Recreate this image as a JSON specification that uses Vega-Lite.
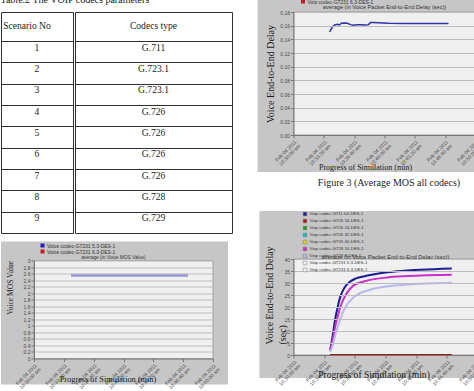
{
  "$schema": "https://vega.github.io/schema/vega-lite/v6.json",
  "background": "white",
  "padding": {"top": -7, "left": 0, "right": 0, "bottom": 0},
  "datasets": {
    "scenarios": [
      {"scenario": 1, "codec": "G.711"},
      {"scenario": 2, "codec": "G.723.1"},
      {"scenario": 3, "codec": "G.723.1"},
      {"scenario": 4, "codec": "G.726"},
      {"scenario": 5, "codec": "G.726"},
      {"scenario": 6, "codec": "G.726"},
      {"scenario": 7, "codec": "G.726"},
      {"scenario": 8, "codec": "G.728"},
      {"scenario": 9, "codec": "G.729"}
    ],
    "delay1": [
      {"time": "2011-02-04T10:33:58Z", "series": "Voip codec-G7231 5.3-DES-1", "delay": 0.151},
      {"time": "2011-02-04T10:34:17Z", "series": "Voip codec-G7231 5.3-DES-1", "delay": 0.158},
      {"time": "2011-02-04T10:34:31Z", "series": "Voip codec-G7231 5.3-DES-1", "delay": 0.161},
      {"time": "2011-02-04T10:34:50Z", "series": "Voip codec-G7231 5.3-DES-1", "delay": 0.162},
      {"time": "2011-02-04T10:35:03Z", "series": "Voip codec-G7231 5.3-DES-1", "delay": 0.161},
      {"time": "2011-02-04T10:35:16Z", "series": "Voip codec-G7231 5.3-DES-1", "delay": 0.1635},
      {"time": "2011-02-04T10:35:36Z", "series": "Voip codec-G7231 5.3-DES-1", "delay": 0.164},
      {"time": "2011-02-04T10:35:56Z", "series": "Voip codec-G7231 5.3-DES-1", "delay": 0.1635},
      {"time": "2011-02-04T10:36:16Z", "series": "Voip codec-G7231 5.3-DES-1", "delay": 0.1615},
      {"time": "2011-02-04T10:36:35Z", "series": "Voip codec-G7231 5.3-DES-1", "delay": 0.1605},
      {"time": "2011-02-04T10:36:55Z", "series": "Voip codec-G7231 5.3-DES-1", "delay": 0.1612},
      {"time": "2011-02-04T10:37:22Z", "series": "Voip codec-G7231 5.3-DES-1", "delay": 0.1612},
      {"time": "2011-02-04T10:37:55Z", "series": "Voip codec-G7231 5.3-DES-1", "delay": 0.161},
      {"time": "2011-02-04T10:38:14Z", "series": "Voip codec-G7231 5.3-DES-1", "delay": 0.1615},
      {"time": "2011-02-04T10:38:28Z", "series": "Voip codec-G7231 5.3-DES-1", "delay": 0.1645},
      {"time": "2011-02-04T10:38:47Z", "series": "Voip codec-G7231 5.3-DES-1", "delay": 0.1648},
      {"time": "2011-02-04T10:39:20Z", "series": "Voip codec-G7231 5.3-DES-1", "delay": 0.1643},
      {"time": "2011-02-04T10:40:26Z", "series": "Voip codec-G7231 5.3-DES-1", "delay": 0.1635},
      {"time": "2011-02-04T10:42:05Z", "series": "Voip codec-G7231 5.3-DES-1", "delay": 0.163},
      {"time": "2011-02-04T10:44:17Z", "series": "Voip codec-G7231 5.3-DES-1", "delay": 0.1632},
      {"time": "2011-02-04T10:47:02Z", "series": "Voip codec-G7231 5.3-DES-1", "delay": 0.163}
    ],
    "legend1": [
      {"series": "Voip codec-G7231 5.3-DES-1"},
      {"series": "Voip codec-G7231 6.3-DES-1"}
    ],
    "mos": [
      {"time": "2011-02-04T10:34:08Z", "series": "Voice codec-G7231 5.3-DES-1", "mos": 2.55},
      {"time": "2011-02-04T10:47:12Z", "series": "Voice codec-G7231 5.3-DES-1", "mos": 2.55}
    ],
    "legend2": [
      {"series": "Voice codec-G7231 5.3-DES-1"},
      {"series": "Voice codec-G7231 6.3-DES-1"}
    ],
    "delay3": [
      {"time": "2011-02-04T10:33:59Z", "codec": "Voip codec-G711 64-DES-1", "delay": 2.1},
      {"time": "2011-02-04T10:34:18Z", "codec": "Voip codec-G711 64-DES-1", "delay": 9},
      {"time": "2011-02-04T10:34:31Z", "codec": "Voip codec-G711 64-DES-1", "delay": 14.6},
      {"time": "2011-02-04T10:34:50Z", "codec": "Voip codec-G711 64-DES-1", "delay": 20.5},
      {"time": "2011-02-04T10:35:03Z", "codec": "Voip codec-G711 64-DES-1", "delay": 23.8},
      {"time": "2011-02-04T10:35:35Z", "codec": "Voip codec-G711 64-DES-1", "delay": 28.3},
      {"time": "2011-02-04T10:36:08Z", "codec": "Voip codec-G711 64-DES-1", "delay": 30.5},
      {"time": "2011-02-04T10:36:40Z", "codec": "Voip codec-G711 64-DES-1", "delay": 31.7},
      {"time": "2011-02-04T10:37:44Z", "codec": "Voip codec-G711 64-DES-1", "delay": 32.8},
      {"time": "2011-02-04T10:38:29Z", "codec": "Voip codec-G711 64-DES-1", "delay": 33.4},
      {"time": "2011-02-04T10:40:12Z", "codec": "Voip codec-G711 64-DES-1", "delay": 34.5},
      {"time": "2011-02-04T10:42:02Z", "codec": "Voip codec-G711 64-DES-1", "delay": 35.1},
      {"time": "2011-02-04T10:43:52Z", "codec": "Voip codec-G711 64-DES-1", "delay": 35.5},
      {"time": "2011-02-04T10:47:12Z", "codec": "Voip codec-G711 64-DES-1", "delay": 36.0},
      {"time": "2011-02-04T10:33:59Z", "codec": "Voip codec-G728 16-DES-1", "delay": 2.0},
      {"time": "2011-02-04T10:34:18Z", "codec": "Voip codec-G728 16-DES-1", "delay": 7},
      {"time": "2011-02-04T10:34:31Z", "codec": "Voip codec-G728 16-DES-1", "delay": 11.5},
      {"time": "2011-02-04T10:34:50Z", "codec": "Voip codec-G728 16-DES-1", "delay": 16.5},
      {"time": "2011-02-04T10:35:03Z", "codec": "Voip codec-G728 16-DES-1", "delay": 19.5},
      {"time": "2011-02-04T10:35:35Z", "codec": "Voip codec-G728 16-DES-1", "delay": 24.5},
      {"time": "2011-02-04T10:36:08Z", "codec": "Voip codec-G728 16-DES-1", "delay": 27.5},
      {"time": "2011-02-04T10:36:40Z", "codec": "Voip codec-G728 16-DES-1", "delay": 29.3},
      {"time": "2011-02-04T10:37:44Z", "codec": "Voip codec-G728 16-DES-1", "delay": 30.7},
      {"time": "2011-02-04T10:38:29Z", "codec": "Voip codec-G728 16-DES-1", "delay": 31.4},
      {"time": "2011-02-04T10:40:12Z", "codec": "Voip codec-G728 16-DES-1", "delay": 32.3},
      {"time": "2011-02-04T10:42:02Z", "codec": "Voip codec-G728 16-DES-1", "delay": 32.8},
      {"time": "2011-02-04T10:43:52Z", "codec": "Voip codec-G728 16-DES-1", "delay": 33.1},
      {"time": "2011-02-04T10:47:12Z", "codec": "Voip codec-G728 16-DES-1", "delay": 33.4},
      {"time": "2011-02-04T10:33:59Z", "codec": "Voip codec-G729 8-DES-1", "delay": 1.2},
      {"time": "2011-02-04T10:34:18Z", "codec": "Voip codec-G729 8-DES-1", "delay": 4.5},
      {"time": "2011-02-04T10:34:31Z", "codec": "Voip codec-G729 8-DES-1", "delay": 8},
      {"time": "2011-02-04T10:34:50Z", "codec": "Voip codec-G729 8-DES-1", "delay": 12},
      {"time": "2011-02-04T10:35:03Z", "codec": "Voip codec-G729 8-DES-1", "delay": 14.5},
      {"time": "2011-02-04T10:35:35Z", "codec": "Voip codec-G729 8-DES-1", "delay": 19.5},
      {"time": "2011-02-04T10:36:08Z", "codec": "Voip codec-G729 8-DES-1", "delay": 22.5},
      {"time": "2011-02-04T10:36:40Z", "codec": "Voip codec-G729 8-DES-1", "delay": 24.5},
      {"time": "2011-02-04T10:37:44Z", "codec": "Voip codec-G729 8-DES-1", "delay": 26.5},
      {"time": "2011-02-04T10:38:29Z", "codec": "Voip codec-G729 8-DES-1", "delay": 27.4},
      {"time": "2011-02-04T10:40:12Z", "codec": "Voip codec-G729 8-DES-1", "delay": 28.6},
      {"time": "2011-02-04T10:42:02Z", "codec": "Voip codec-G729 8-DES-1", "delay": 29.3},
      {"time": "2011-02-04T10:43:52Z", "codec": "Voip codec-G729 8-DES-1", "delay": 29.7},
      {"time": "2011-02-04T10:47:12Z", "codec": "Voip codec-G729 8-DES-1", "delay": 30.1},
      {"time": "2011-02-04T10:33:59Z", "codec": "Voip codec-G726 16-DES-1", "delay": 0},
      {"time": "2011-02-04T10:47:12Z", "codec": "Voip codec-G726 16-DES-1", "delay": 0}
    ],
    "legend3": [
      {"codec": "Voip codec-G711 64-DES-1"},
      {"codec": "Voip codec-G726 16-DES-1"},
      {"codec": "Voip codec-G726 24-DES-1"},
      {"codec": "Voip codec-G726 32-DES-1"},
      {"codec": "Voip codec-G726 40-DES-1"},
      {"codec": "Voip codec-G728 16-DES-1"},
      {"codec": "Voip codec-G729 8-DES-1"},
      {"codec": "Voip codec-G7231 5.3-DES-1"},
      {"codec": "Voip codec-G7231 6.3-DES-1"}
    ]
  },
  "hconcat": [
    {
      "vconcat": [
        {
          "title": {"text": "Table.2 The VOIP codecs parameters", "anchor": "start", "font": "Liberation Serif", "fontSize": 10, "fontWeight": "normal", "color": "#222", "offset": 7},
          "hconcat": [
            {
              "width": 72, "height": 221,
              "view": {"stroke": "#2e2e2e"},
              "resolve": {"axis": {"y": "independent"}},
              "layer": [
                {
                  "data": {"name": "scenarios"},
                  "mark": {"type": "text", "font": "Liberation Serif", "fontSize": 9.6, "color": "#222", "dy": -4},
                  "encoding": {
                    "y": {"field": "scenario", "type": "quantitative", "scale": {"domain": [-0.85, 9.5], "reverse": true, "nice": false, "zero": false},
                      "axis": {"values": [0.5, 1.5, 2.5, 3.5, 4.5, 5.5, 6.5, 7.5, 8.5], "grid": true, "gridColor": "#2e2e2e", "gridOpacity": 1, "labels": false, "ticks": false, "domain": false, "title": null, "zindex": 0}},
                    "text": {"field": "scenario", "type": "quantitative"}
                  }
                },
                {
                  "data": {"values": [{"header": "Scenario No"}]},
                  "mark": {"type": "text", "font": "Liberation Serif", "fontSize": 9.6, "color": "#222", "dx": -10},
                  "encoding": {"y": {"datum": -0.175, "type": "quantitative", "axis": null}, "text": {"field": "header"}}
                }
              ]
            },
            {
              "width": 157, "height": 221,
              "view": {"stroke": "#2e2e2e"},
              "resolve": {"axis": {"y": "independent"}},
              "layer": [
                {
                  "data": {"name": "scenarios"},
                  "mark": {"type": "text", "font": "Liberation Serif", "fontSize": 9.6, "color": "#222", "dy": -4},
                  "encoding": {
                    "y": {"field": "scenario", "type": "quantitative", "scale": {"domain": [-0.85, 9.5], "reverse": true, "nice": false, "zero": false},
                      "axis": {"values": [0.5, 1.5, 2.5, 3.5, 4.5, 5.5, 6.5, 7.5, 8.5], "grid": true, "gridColor": "#2e2e2e", "gridOpacity": 1, "labels": false, "ticks": false, "domain": false, "title": null, "zindex": 0}},
                    "text": {"field": "codec"}
                  }
                },
                {
                  "data": {"values": [{"header": "Codecs type"}]},
                  "mark": {"type": "text", "font": "Liberation Serif", "fontSize": 9.6, "color": "#222"},
                  "encoding": {"y": {"datum": -0.175, "type": "quantitative", "axis": null}, "text": {"field": "header"}}
                }
              ]
            }
          ],
          "spacing": 0,
          "align": "none"
        },
        {
          "width": 212, "height": 98,
          "title": {"text": "average (in Voice MOS Value)", "fontSize": 4.8, "dx": 6.5, "offset": -18.5, "frame": "group"},
          "resolve": {"axis": {"x": "independent", "y": "independent"}, "legend": {"color": "independent"}},
          "layer": [
            {
              "data": {"values": [{}]},
              "mark": {"type": "rect", "color": "#c6c6c6"},
              "encoding": {
                "x": {"datum": {"year": 2011, "month": 2, "date": 4, "hours": 10, "minutes": 26, "seconds": 19, "utc": true}, "type": "temporal", "axis": null},
                "x2": {"datum": {"year": 2011, "month": 2, "date": 4, "hours": 10, "minutes": 51, "seconds": 41, "utc": true}},
                "y": {"datum": 3.582, "type": "quantitative", "axis": null},
                "y2": {"datum": -0.796}
              }
            },
            {
              "data": {"values": [{}]},
              "mark": {"type": "rect", "color": "#f0f0f0", "stroke": "#a0a0a0", "strokeWidth": 1},
              "encoding": {
                "x": {"datum": {"year": 2011, "month": 2, "date": 4, "hours": 10, "minutes": 30, "utc": true}, "type": "temporal", "axis": null},
                "x2": {"datum": {"year": 2011, "month": 2, "date": 4, "hours": 10, "minutes": 50, "utc": true}},
                "y": {"datum": 3, "type": "quantitative", "axis": null},
                "y2": {"datum": 0}
              }
            },
            {
              "data": {"name": "mos"},
              "mark": {"type": "line", "strokeWidth": 3, "opacity": 0.42},
              "encoding": {
                "x": {"field": "time", "type": "temporal",
                  "scale": {"type": "utc", "nice": false, "range": [33, 212], "domain": [{"year": 2011, "month": 2, "date": 4, "hours": 10, "minutes": 30, "utc": true}, {"year": 2011, "month": 2, "date": 4, "hours": 10, "minutes": 50, "utc": true}]},
                  "axis": {
                    "values": [
                      {"year": 2011, "month": 2, "date": 4, "hours": 10, "minutes": 30, "seconds": 0, "utc": true},
                      {"year": 2011, "month": 2, "date": 4, "hours": 10, "minutes": 33, "seconds": 20, "utc": true},
                      {"year": 2011, "month": 2, "date": 4, "hours": 10, "minutes": 36, "seconds": 40, "utc": true},
                      {"year": 2011, "month": 2, "date": 4, "hours": 10, "minutes": 40, "seconds": 0, "utc": true},
                      {"year": 2011, "month": 2, "date": 4, "hours": 10, "minutes": 43, "seconds": 20, "utc": true},
                      {"year": 2011, "month": 2, "date": 4, "hours": 10, "minutes": 46, "seconds": 40, "utc": true},
                      {"year": 2011, "month": 2, "date": 4, "hours": 10, "minutes": 50, "seconds": 0, "utc": true}
                    ],
                    "labelExpr": "[utcFormat(datum.value, '%b %d %Y'), lower(utcFormat(datum.value, '%I:%M:%S %p'))]",
                    "labelAngle": -45, "labelAlign": "right", "labelBaseline": "top", "labelLineHeight": 5.5, "labelPadding": 1,
                    "labelOverlap": false, "labelBound": false, "labelFlush": false, "grid": false, "zindex": 1,
                    "title": "Progress of Simulation (min)", "titleFontSize": 8.3, "titleX": 106.5, "titleY": 23, "titleAlign": "center", "titleBaseline": "alphabetic", "titleAngle": 0
                  }
                },
                "y": {"field": "mos", "type": "quantitative", "scale": {"domain": [0, 3], "nice": false, "zero": false},
                  "axis": {"values": [0, 0.2, 0.4, 0.6, 0.8, 1, 1.2, 1.4, 1.6, 1.8, 2, 2.2, 2.4, 2.6, 2.8, 3], "format": "~g", "grid": true, "labelPadding": 1, "zindex": 1, "offset": -33,
                    "title": "Voice MOS Value", "titleFontSize": 7.5, "titleX": -22, "titleY": 26.8, "titleAngle": -90, "titleAlign": "center", "titleBaseline": "alphabetic"}},
                "color": {"field": "series", "type": "nominal", "legend": null}
              }
            },
            {
              "data": {"name": "legend2"},
              "mark": {"type": "square", "opacity": 0},
              "encoding": {
                "color": {"field": "series", "type": "nominal",
                  "scale": {"domain": ["Voice codec-G7231 5.3-DES-1", "Voice codec-G7231 6.3-DES-1"], "range": ["#2020b4", "#c01c1c"]},
                  "legend": {"orient": "none", "legendX": 39, "legendY": -17.5, "title": null, "symbolSize": 16, "labelFontSize": 5, "rowPadding": 0, "labelOffset": 2, "padding": 0, "symbolStrokeWidth": 0, "zindex": 1}}
              }
            }
          ]
        }
      ],
      "spacing": 6.5,
      "align": "none",
      "resolve": {"scale": {"color": "independent"}, "legend": {"color": "independent"}}
    },
    {
      "vconcat": [
        {
          "width": 182, "height": 123,
          "title": {"text": "average (in Voice Packet End-to-End Delay (sec))", "fontSize": 5.6, "offset": -17.5, "frame": "group"},
          "resolve": {"axis": {"x": "independent", "y": "independent"}, "legend": {"color": "independent"}},
          "layer": [
            {
              "data": {"values": [{}]},
              "mark": {"type": "rect", "color": "#c6c6c6"},
              "encoding": {
                "x": {"datum": {"year": 2011, "month": 2, "date": 4, "hours": 10, "minutes": 26, "seconds": 3, "utc": true}, "type": "temporal", "axis": null},
                "x2": {"datum": {"year": 2011, "month": 2, "date": 4, "hours": 10, "minutes": 50, "seconds": 13, "utc": true}},
                "y": {"datum": 0.1976, "type": "quantitative", "axis": null},
                "y2": {"datum": -0.0541}
              }
            },
            {
              "data": {"values": [{}]},
              "mark": {"type": "rect", "color": "#f0f0f0", "stroke": "#a0a0a0", "strokeWidth": 1},
              "encoding": {
                "x": {"datum": {"year": 2011, "month": 2, "date": 4, "hours": 10, "minutes": 30, "utc": true}, "type": "temporal", "axis": null},
                "x2": {"datum": {"year": 2011, "month": 2, "date": 4, "hours": 10, "minutes": 50, "utc": true}},
                "y": {"datum": 0.18, "type": "quantitative", "axis": null},
                "y2": {"datum": 0}
              }
            },
            {
              "data": {"name": "delay1"},
              "mark": {"type": "line", "strokeWidth": 1.5},
              "encoding": {
                "x": {"field": "time", "type": "temporal",
                  "scale": {"type": "utc", "nice": false, "domain": [{"year": 2011, "month": 2, "date": 4, "hours": 10, "minutes": 30, "utc": true}, {"year": 2011, "month": 2, "date": 4, "hours": 10, "minutes": 50, "utc": true}]},
                  "axis": {
                    "values": [
                      {"year": 2011, "month": 2, "date": 4, "hours": 10, "minutes": 30, "seconds": 0, "utc": true},
                      {"year": 2011, "month": 2, "date": 4, "hours": 10, "minutes": 33, "seconds": 20, "utc": true},
                      {"year": 2011, "month": 2, "date": 4, "hours": 10, "minutes": 36, "seconds": 40, "utc": true},
                      {"year": 2011, "month": 2, "date": 4, "hours": 10, "minutes": 40, "seconds": 0, "utc": true},
                      {"year": 2011, "month": 2, "date": 4, "hours": 10, "minutes": 43, "seconds": 20, "utc": true},
                      {"year": 2011, "month": 2, "date": 4, "hours": 10, "minutes": 46, "seconds": 40, "utc": true},
                      {"year": 2011, "month": 2, "date": 4, "hours": 10, "minutes": 50, "seconds": 0, "utc": true}
                    ],
                    "labelExpr": "[utcFormat(datum.value, '%b %d %Y'), lower(utcFormat(datum.value, '%I:%M:%S %p'))]",
                    "labelAngle": -45, "labelAlign": "right", "labelBaseline": "top", "labelLineHeight": 5.5, "labelPadding": 1,
                    "labelOverlap": false, "labelBound": false, "labelFlush": false, "grid": false, "zindex": 1,
                    "title": "Progress of Simulation (min)", "titleFontSize": 8, "titleX": 71.5, "titleY": 34, "titleAlign": "center", "titleBaseline": "alphabetic", "titleAngle": 0
                  }
                },
                "y": {"field": "delay", "type": "quantitative", "scale": {"domain": [0, 0.18], "nice": false, "zero": false},
                  "axis": {"values": [0, 0.02, 0.04, 0.06, 0.08, 0.1, 0.12, 0.14, 0.16, 0.18], "format": ".2f", "grid": true, "labelPadding": 1, "zindex": 1,
                    "title": "Voice End-to-End Delay", "titleFontSize": 10, "titleX": -20.5, "titleY": 61.5, "titleAngle": -90, "titleAlign": "center", "titleBaseline": "alphabetic"}},
                "color": {"field": "series", "type": "nominal", "legend": null}
              }
            },
            {
              "data": {"name": "legend1"},
              "mark": {"type": "square", "opacity": 0},
              "encoding": {
                "color": {"field": "series", "type": "nominal",
                  "scale": {"domain": ["Voip codec-G7231 5.3-DES-1", "Voip codec-G7231 6.3-DES-1"], "range": ["#3030a8", "#c01c1c"]},
                  "legend": {"orient": "none", "legendX": 7, "legendY": -19, "title": null, "symbolSize": 16, "labelFontSize": 5, "rowPadding": 0, "labelOffset": 2, "padding": 0, "symbolStrokeWidth": 0, "zindex": 1}}
              }
            }
          ]
        },
        {
          "width": 184, "height": 39,
          "view": {"fill": "white"},
          "data": {"values": [{"caption": "Figure 3 (Average MOS all codecs)"}]},
          "mark": {"type": "text", "font": "Liberation Serif", "fontSize": 10, "color": "#222", "dx": 3.5, "dy": -8.5},
          "encoding": {"text": {"field": "caption"}}
        },
        {
          "width": 184, "height": 96,
          "title": {"text": "average (in Voice Packet End-to-End Delay (sec))", "fontSize": 5.8, "offset": -48.5, "frame": "group"},
          "resolve": {"axis": {"x": "independent", "y": "independent"}, "legend": {"color": "independent"}},
          "layer": [
            {
              "data": {"values": [{}]},
              "mark": {"type": "rect", "color": "#c6c6c6"},
              "encoding": {
                "x": {"datum": {"year": 2011, "month": 2, "date": 4, "hours": 10, "minutes": 26, "seconds": 18, "utc": true}, "type": "temporal", "axis": null},
                "x2": {"datum": {"year": 2011, "month": 2, "date": 4, "hours": 10, "minutes": 50, "utc": true}},
                "y": {"datum": 60, "type": "quantitative", "axis": null},
                "y2": {"datum": -9.583}
              }
            },
            {
              "data": {"values": [{}]},
              "mark": {"type": "rect", "color": "#f0f0f0", "stroke": "#a0a0a0", "strokeWidth": 1},
              "encoding": {
                "x": {"datum": {"year": 2011, "month": 2, "date": 4, "hours": 10, "minutes": 30, "utc": true}, "type": "temporal", "axis": null},
                "x2": {"datum": {"year": 2011, "month": 2, "date": 4, "hours": 10, "minutes": 50, "utc": true}},
                "y": {"datum": 40, "type": "quantitative", "axis": null},
                "y2": {"datum": 0}
              }
            },
            {
              "data": {"name": "delay3"},
              "mark": {"type": "line", "strokeWidth": 2, "interpolate": "monotone"},
              "encoding": {
                "x": {"field": "time", "type": "temporal",
                  "scale": {"type": "utc", "nice": false, "domain": [{"year": 2011, "month": 2, "date": 4, "hours": 10, "minutes": 30, "utc": true}, {"year": 2011, "month": 2, "date": 4, "hours": 10, "minutes": 50, "utc": true}]},
                  "axis": {
                    "values": [
                      {"year": 2011, "month": 2, "date": 4, "hours": 10, "minutes": 30, "seconds": 0, "utc": true},
                      {"year": 2011, "month": 2, "date": 4, "hours": 10, "minutes": 33, "seconds": 20, "utc": true},
                      {"year": 2011, "month": 2, "date": 4, "hours": 10, "minutes": 36, "seconds": 40, "utc": true},
                      {"year": 2011, "month": 2, "date": 4, "hours": 10, "minutes": 40, "seconds": 0, "utc": true},
                      {"year": 2011, "month": 2, "date": 4, "hours": 10, "minutes": 43, "seconds": 20, "utc": true},
                      {"year": 2011, "month": 2, "date": 4, "hours": 10, "minutes": 46, "seconds": 40, "utc": true},
                      {"year": 2011, "month": 2, "date": 4, "hours": 10, "minutes": 50, "seconds": 0, "utc": true}
                    ],
                    "labelExpr": "[utcFormat(datum.value, '%b %d %Y'), lower(utcFormat(datum.value, '%I:%M:%S %p'))]",
                    "labelAngle": -45, "labelAlign": "right", "labelBaseline": "top", "labelLineHeight": 5.5, "labelPadding": 1,
                    "labelOverlap": false, "labelBound": false, "labelFlush": false, "grid": false, "zindex": 1,
                    "title": "Progress of Simulation (min)", "titleFontSize": 9.6, "titleX": 80, "titleY": 22, "titleAlign": "center", "titleBaseline": "alphabetic", "titleAngle": 0
                  }
                },
                "y": {"field": "delay", "type": "quantitative", "scale": {"domain": [0, 40], "nice": false, "zero": false},
                  "axis": {"values": [0, 5, 10, 15, 20, 25, 30, 35, 40], "format": "d", "grid": true, "labelPadding": 1, "zindex": 1,
                    "title": ["Voice End-to-End Delay", "(sec)"], "titleFontSize": 10, "titleLineHeight": 13.5, "titleX": -21.5, "titleY": 85, "titleAngle": -90, "titleAlign": "left", "titleBaseline": "alphabetic"}},
                "color": {"field": "codec", "type": "nominal", "legend": null}
              }
            },
            {
              "data": {"name": "legend3"},
              "mark": {"type": "square", "opacity": 0},
              "encoding": {
                "color": {"field": "codec", "type": "nominal",
                  "scale": {
                    "domain": ["Voip codec-G711 64-DES-1", "Voip codec-G726 16-DES-1", "Voip codec-G726 24-DES-1", "Voip codec-G726 32-DES-1", "Voip codec-G726 40-DES-1", "Voip codec-G728 16-DES-1", "Voip codec-G729 8-DES-1", "Voip codec-G7231 5.3-DES-1", "Voip codec-G7231 6.3-DES-1"],
                    "range": ["#1c1c92", "#a01818", "#18a018", "#18b8c8", "#d8d820", "#c830c8", "#b8b8ee", "#f4f4f4", "#f4f4f4"]
                  },
                  "legend": {"orient": "none", "legendX": 9, "legendY": -47.5, "title": null, "symbolSize": 13, "labelFontSize": 4.4, "rowPadding": 0, "labelOffset": 2, "padding": 0, "symbolStrokeColor": "#777", "symbolStrokeWidth": 0.5, "zindex": 1}}
              }
            }
          ]
        }
      ],
      "spacing": 0,
      "align": "none",
      "resolve": {"scale": {"color": "independent"}, "legend": {"color": "independent"}}
    }
  ],
  "spacing": 24.5,
  "align": "none",
  "resolve": {"scale": {"color": "independent"}, "legend": {"color": "independent"}},
  "config": {
    "view": {"stroke": null},
    "font": "Liberation Sans",
    "axis": {"labelFont": "Liberation Sans", "labelColor": "#4a4a4a", "labelFontSize": 5, "tickColor": "#777", "tickSize": 3, "domainColor": "#777", "gridColor": "#bcbcbc", "titleFont": "Liberation Serif", "titleFontWeight": "normal", "titleColor": "#1a1a1a"},
    "legend": {"labelFont": "Liberation Sans", "labelColor": "#333"},
    "title": {"font": "Liberation Sans", "fontWeight": "normal", "color": "#333"}
  }
}
